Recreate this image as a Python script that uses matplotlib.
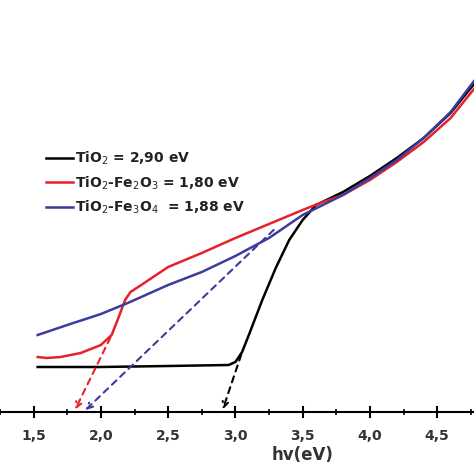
import matplotlib
matplotlib.use("Agg")
import matplotlib.pyplot as plt
import numpy as np

def d(py): return 412 - py

bx = [1.53, 2.0, 2.5, 2.95, 3.0, 3.05, 3.1, 3.2, 3.3, 3.4, 3.5, 3.6, 3.8, 4.0, 4.2, 4.4, 4.6, 4.78]
by = [367, 367, 366, 365, 362, 352, 335, 300, 268, 240, 220, 205, 192, 176, 158, 138, 113, 83]
rx = [1.53, 1.6, 1.7, 1.85, 2.0, 2.08, 2.13, 2.18, 2.22, 2.3, 2.5, 2.75, 3.0, 3.25, 3.5, 3.65, 3.8, 4.0, 4.2, 4.4, 4.6, 4.78]
ry = [357, 358, 357, 353, 345, 335, 318, 300, 292, 285, 267, 253, 238, 224, 210, 202, 195, 180, 162, 142, 118, 88]
ux = [1.53, 1.75, 2.0, 2.2, 2.5, 2.75, 3.0, 3.25, 3.5, 3.65, 3.8, 4.0, 4.2, 4.4, 4.6, 4.78]
uy = [335, 325, 314, 303, 285, 272, 256, 238, 215, 205, 195, 178, 160, 138, 112, 80]
tan_black = ([2.9, 3.05], [412, 352])
tan_red = ([1.8, 2.08], [412, 335])
tan_blue = ([1.87, 3.3], [412, 228])
labels = [r"TiO$_2$ = 2,90 eV", r"TiO$_2$-Fe$_2$O$_3$ = 1,80 eV", r"TiO$_2$-Fe$_3$O$_4$  = 1,88 eV"]
ticks = [1.5, 2.0, 2.5, 3.0, 3.5, 4.0, 4.5]
ticklabels = ["1,5", "2,0", "2,5", "3,0", "3,5", "4,0", "4,5"]

fig = plt.figure(figsize=(4.74, 4.74), dpi=100)
ax = fig.add_axes([0, 0, 1, 1])
ax.set_xlim(1.263, 4.774)
ax.set_ylim(d(474), d(0))
for s in ["top", "left", "right"]:
    ax.spines[s].set_visible(False)
ax.spines["bottom"].set_position(("data", 0))
ax.spines["bottom"].set_linewidth(1.5)
ax.plot(bx, [d(v) for v in by], color="black", lw=1.8, label=labels[0])
ax.plot(rx, [d(v) for v in ry], color="#e8202a", lw=1.8, label=labels[1])
ax.plot(ux, [d(v) for v in uy], color="#3c3c9c", lw=1.8, label=labels[2])
for (xs, ys), c in [(tan_black, "black"), (tan_red, "#e8202a"), (tan_blue, "#3c3c9c")]:
    ax.annotate("", xy=(xs[0], d(ys[0])), xytext=(xs[1], d(ys[1])),
                arrowprops=dict(arrowstyle="->", color=c, lw=1.5, linestyle=(0, (3, 2.5))))
ax.set_xticks(ticks)
ax.set_xticklabels(ticklabels, fontweight="bold", fontsize=10, color="#333333")
ax.set_xticks(np.arange(1.25, 4.8, 0.25), minor=True)
ax.tick_params(axis="x", direction="inout", length=8, width=1.5, pad=8)
ax.tick_params(axis="x", which="minor", direction="inout", length=5, width=1.2)
ax.set_yticks([])
ax.text(3.5, d(455), "hv(eV)", ha="center", va="center", fontsize=12, fontweight="bold", color="#333333")
leg = ax.legend(loc="upper left", bbox_to_anchor=(0.07, 0.71), frameon=False, handlelength=2.0,
                handletextpad=0.1, labelspacing=0.5, prop={"weight": "bold", "size": 10})
for t in leg.get_texts():
    t.set_color("#222222")
fig.savefig("out.png", dpi=100)
